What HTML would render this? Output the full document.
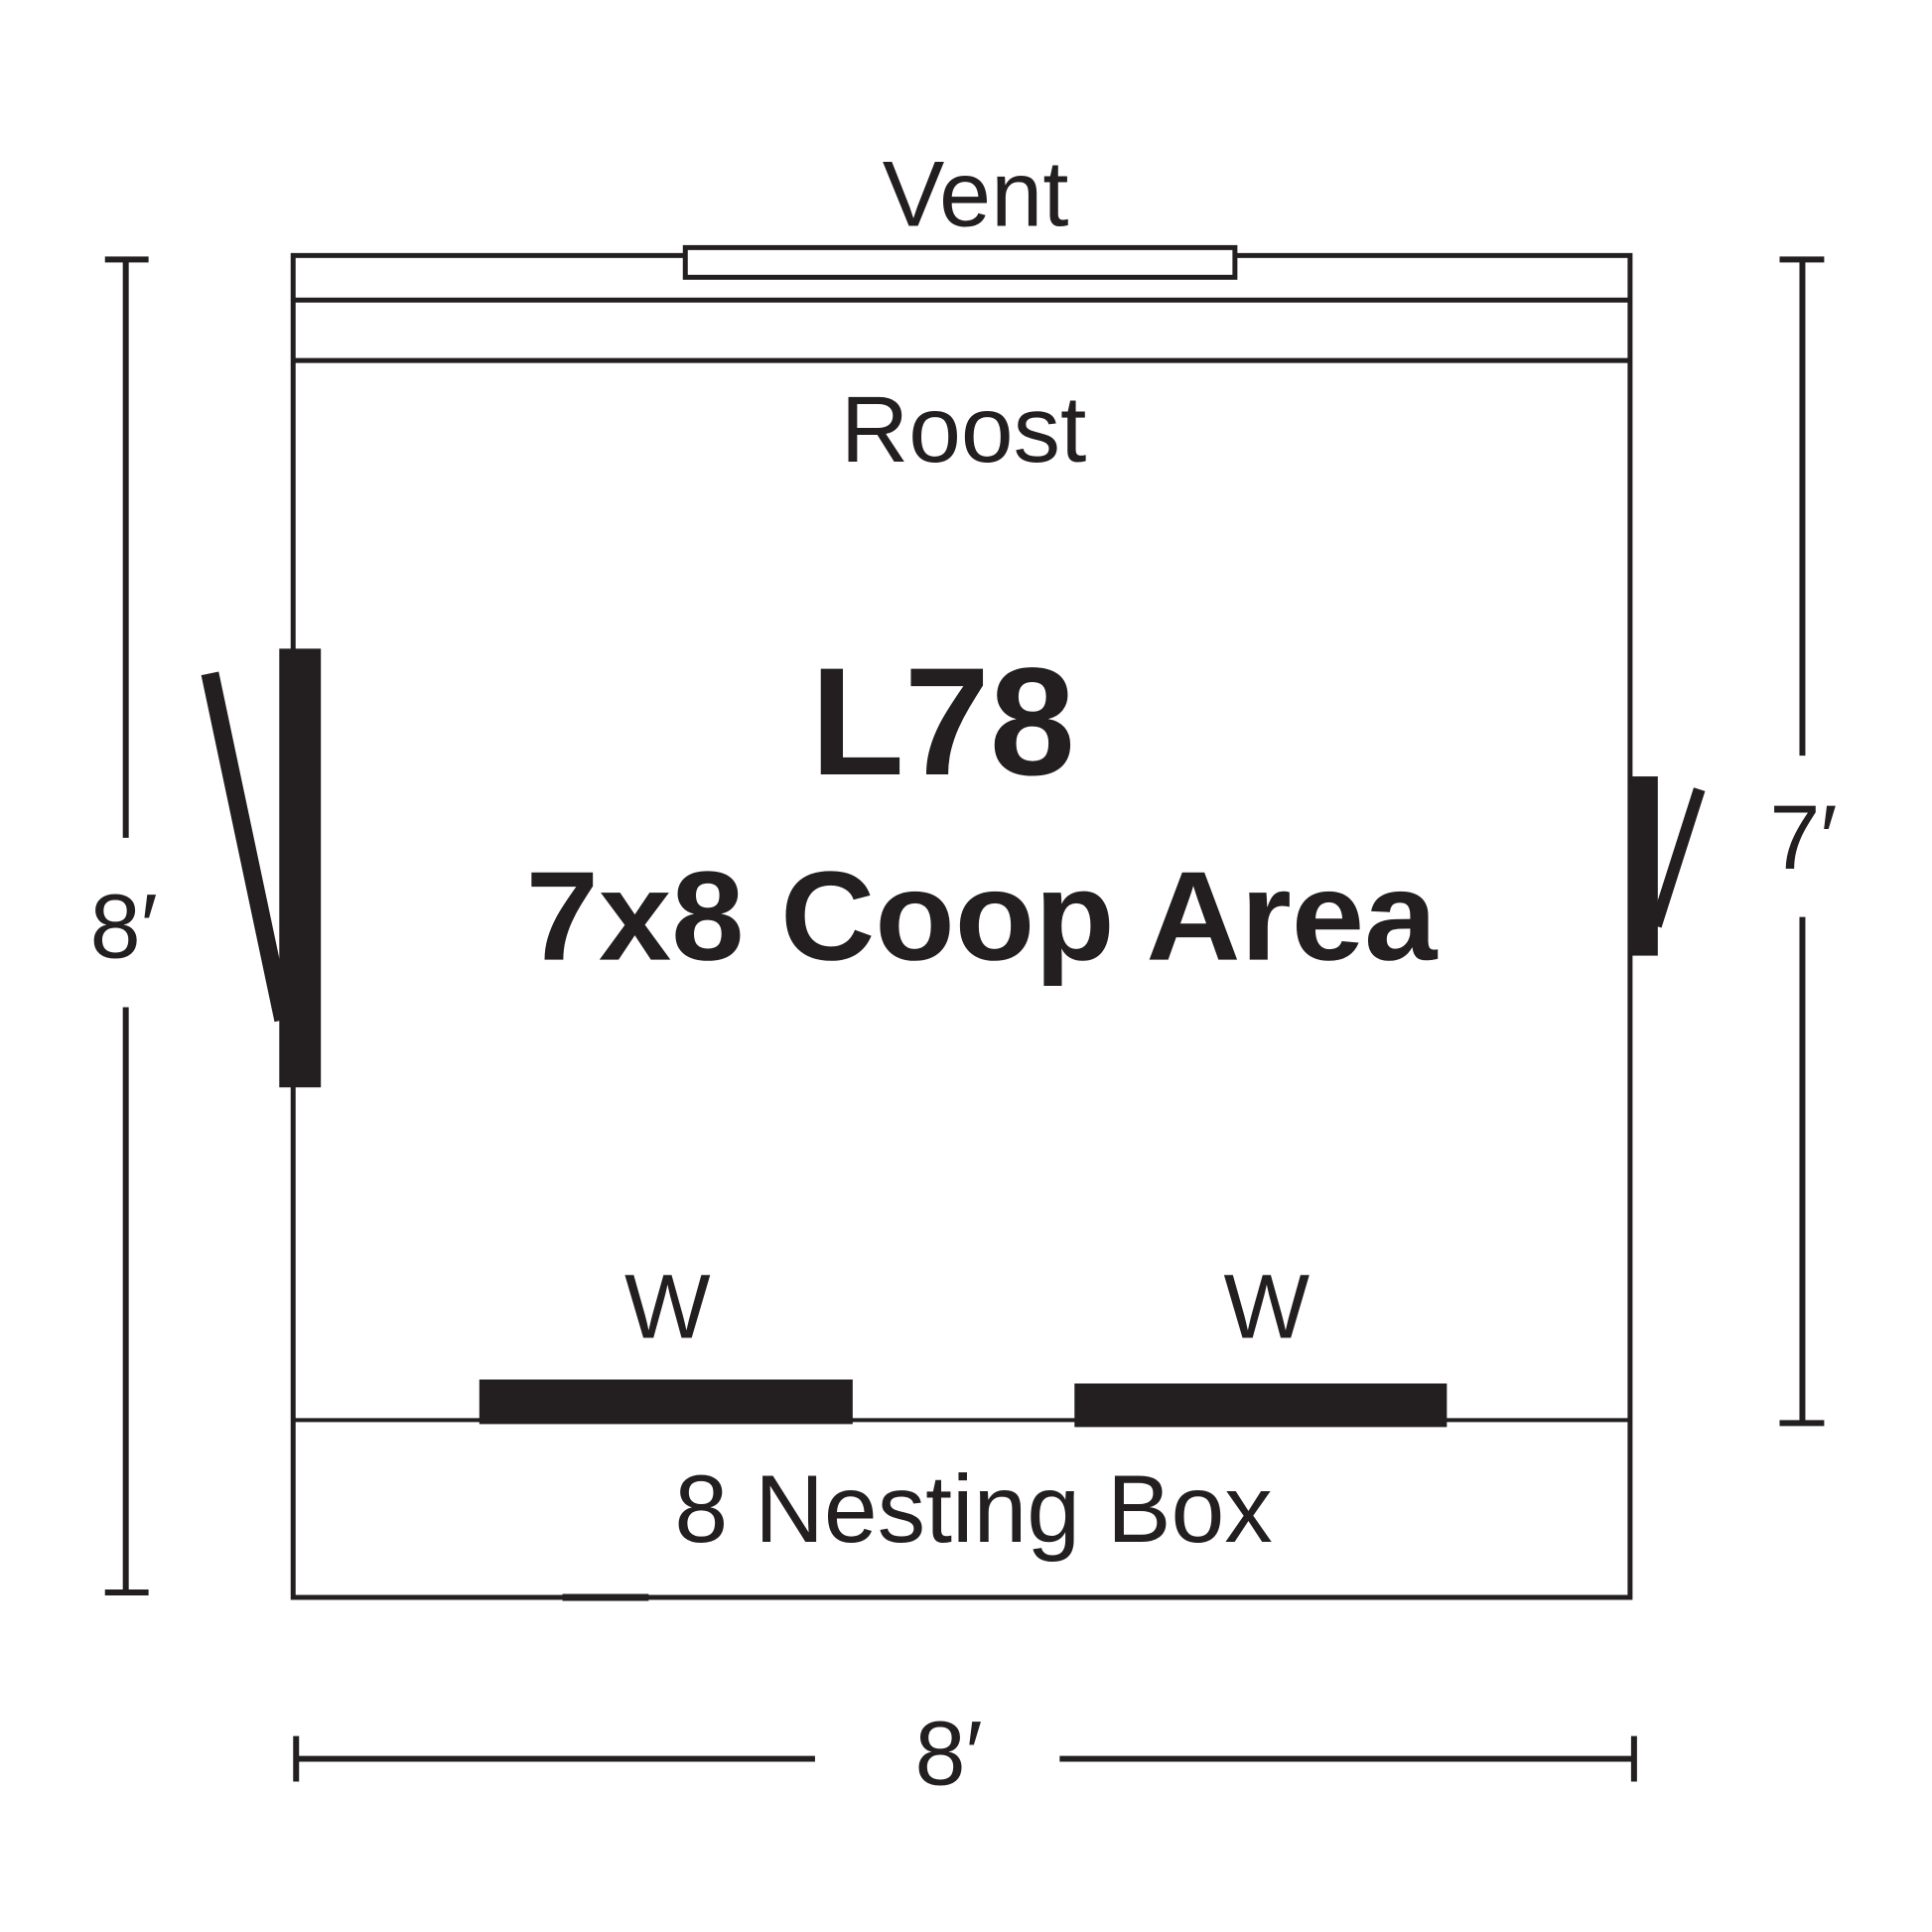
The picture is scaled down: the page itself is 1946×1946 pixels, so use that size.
<!DOCTYPE html>
<html><head><meta charset="utf-8"><style>
html,body{margin:0;padding:0;background:#fff}
svg{display:block}
text{font-family:"Liberation Sans",sans-serif;fill:#231f20}
</style></head><body>
<svg width="1946" height="1946" viewBox="0 0 1946 1946" xmlns="http://www.w3.org/2000/svg">
<g transform="scale(0.9975)">
<g stroke="#231f20" fill="none">
<rect x="296" y="258" width="1350" height="1355" stroke-width="5"/>
<line x1="296" y1="303" x2="1646" y2="303" stroke-width="5"/>
<line x1="296" y1="364" x2="1646" y2="364" stroke-width="5"/>
<rect x="692" y="250" width="555" height="30" stroke-width="5" fill="#fff"/>
<line x1="296" y1="1434" x2="1646" y2="1434" stroke-width="4"/>
<line x1="568" y1="1613" x2="655" y2="1613" stroke-width="7"/>
<line x1="127" y1="262" x2="127" y2="846" stroke-width="6"/>
<line x1="127" y1="1017" x2="127" y2="1608" stroke-width="6"/>
<line x1="106" y1="262" x2="150" y2="262" stroke-width="6"/>
<line x1="106" y1="1608" x2="150" y2="1608" stroke-width="6"/>
<line x1="1820" y1="262" x2="1820" y2="763" stroke-width="6"/>
<line x1="1820" y1="926" x2="1820" y2="1437" stroke-width="6"/>
<line x1="1797" y1="262" x2="1842" y2="262" stroke-width="6"/>
<line x1="1797" y1="1437" x2="1842" y2="1437" stroke-width="6"/>
<line x1="299" y1="1776" x2="823" y2="1776" stroke-width="6"/>
<line x1="1070" y1="1776" x2="1650" y2="1776" stroke-width="6"/>
<line x1="299" y1="1753" x2="299" y2="1799" stroke-width="6"/>
<line x1="1650" y1="1753" x2="1650" y2="1799" stroke-width="6"/>
<line x1="212" y1="680" x2="286" y2="1030" stroke-width="18"/>
<line x1="1716" y1="797" x2="1672" y2="935" stroke-width="12"/>
</g>
<g fill="#231f20">
<rect x="282" y="655" width="42" height="443"/>
<rect x="1644" y="784" width="30" height="181"/>
<rect x="484" y="1393" width="377" height="45"/>
<rect x="1085" y="1397" width="376" height="44"/>
</g>
<text x="985" y="228" font-size="94" text-anchor="middle">Vent</text>
<text x="973" y="466" font-size="95" text-anchor="middle">Roost</text>
<text x="952" y="782" font-size="155" font-weight="bold" text-anchor="middle">L78</text>
<text x="991" y="969" font-size="128" font-weight="bold" text-anchor="middle" textLength="920" lengthAdjust="spacingAndGlyphs">7x8 Coop Area</text>
<text x="674" y="1351" font-size="92" text-anchor="middle">W</text>
<text x="1279" y="1351" font-size="92" text-anchor="middle">W</text>
<text x="983" y="1557" font-size="97" text-anchor="middle">8 Nesting Box</text>
<text x="125" y="967" font-size="92" text-anchor="middle">8′</text>
<text x="1821" y="877" font-size="92" text-anchor="middle">7′</text>
<text x="958" y="1802" font-size="92" text-anchor="middle">8′</text>
</g>
</svg>
</body></html>
